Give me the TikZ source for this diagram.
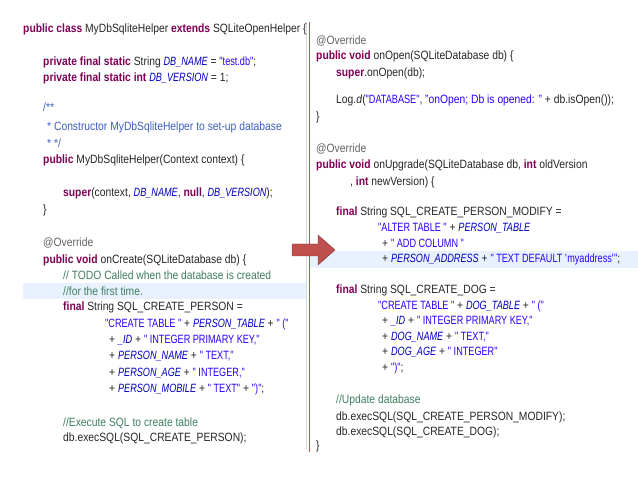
\documentclass[tikz,border=0pt]{standalone}
\usepackage{fontspec}
\setmainfont{Liberation Sans}[FakeStretch=0.86]
\newfontfamily\narrowfam{Liberation Sans}[FakeStretch=0.76]
\definecolor{kwc}{HTML}{7F0055}
\definecolor{fdc}{HTML}{0000C0}
\definecolor{stc}{HTML}{2A00FF}
\definecolor{cmc}{HTML}{3F7F5F}
\definecolor{dcc}{HTML}{3F5FBF}
\definecolor{anc}{HTML}{646464}
\definecolor{hlc}{HTML}{E8F2FE}
\definecolor{redl}{HTML}{C0504D}
\newcommand\jkw[1]{\textcolor{kwc}{\bfseries #1}}
\newcommand\jfd[1]{\textcolor{fdc}{\narrowfam\itshape #1}}
\newcommand\jst[1]{\textcolor{stc}{\narrowfam #1}}
\newcommand\jcm[1]{\textcolor{cmc}{#1}}
\newcommand\jdc[1]{\textcolor{dcc}{#1}}
\newcommand\jan[1]{\textcolor{anc}{#1}}
\tikzset{cl/.style={anchor=west,inner sep=0pt,font=\fontsize{12}{14}\selectfont,text=black!85}}
\begin{document}
\begin{tikzpicture}[x=1pt,y=-1pt]
\useasboundingbox (0,0) rectangle (638,478);
\fill[white] (0,0) rectangle (638,478);
\fill[hlc] (23,283) rectangle (307,299);
\fill[hlc] (310,251) rectangle (638,268);
\draw[black!15] (306,22) -- (306,450);
\draw[redl,line width=1pt] (309,22) -- (309,452);
% left
\node[cl] (l1) at (23,29) {\jkw{public class} MyDbSqliteHelper \jkw{extends} SQLiteOpenHelper \{};
\node[cl] (l2) at (43,62) {\jkw{private final static} String \jfd{DB\_NAME} = \jst{"test.db"};};
\node[cl] (l3) at (43,78) {\jkw{private final static int} \jfd{DB\_VERSION} = 1;};
\node[cl] (l4) at (43,107) {\jdc{/**}};
\node[cl] (l5) at (47,127) {\jdc{* Constructor MyDbSqliteHelper to set-up database}};
\node[cl] (l6) at (47,143) {\jdc{* */}};
\node[cl] (l7) at (43,160) {\jkw{public} MyDbSqliteHelper(Context context) \{};
\node[cl] (l8) at (63,193) {\jkw{super}(context, \jfd{DB\_NAME}, \jkw{null}, \jfd{DB\_VERSION});};
\node[cl] (l9) at (43,210) {\}};
\node[cl] (l10) at (43,243) {\jan{@Override}};
\node[cl] (l11) at (43,260) {\jkw{public void} onCreate(SQLiteDatabase db) \{};
\node[cl] (l12) at (63,275) {\jcm{// TODO Called when the database is created}};
\node[cl] (l13) at (63,291) {\jcm{//for the first time.}};
\node[cl] (l14) at (63,307) {\jkw{final} String SQL\_CREATE\_PERSON =};
\node[cl] (l15) at (105,324) {\jst{"CREATE TABLE "} + \jfd{PERSON\_TABLE} + \jst{" ("}};
\node[cl] (l16) at (109,340) {+ \jfd{\_ID} + \jst{" INTEGER PRIMARY KEY,"}};
\node[cl] (l17) at (109,356) {+ \jfd{PERSON\_NAME} + \jst{" TEXT,"}};
\node[cl] (l18) at (109,373) {+ \jfd{PERSON\_AGE} + \jst{" INTEGER,"}};
\node[cl] (l19) at (109,389) {+ \jfd{PERSON\_MOBILE} + \jst{" TEXT"} + \jst{")"};};
\node[cl] (l20) at (63,423) {\jcm{//Execute SQL to create table}};
\node[cl] (l21) at (63,438) {db.execSQL(SQL\_CREATE\_PERSON);};
% right
\node[cl] (r1) at (316,41) {\jan{@Override}};
\node[cl] (r2) at (316,56) {\jkw{public void} onOpen(SQLiteDatabase db) \{};
\node[cl] (r3) at (336,73) {\jkw{super}.onOpen(db);};
\node[cl] (r4) at (336,100) {Log.\textit{d}(\jst{"DATABASE"}, \textcolor{stc}{"onOpen; Db is opened: "} + db.isOpen());};
\node[cl] (r5) at (316,117) {\}};
\node[cl] (r6) at (316,149) {\jan{@Override}};
\node[cl] (r7) at (316,165) {\jkw{public void} onUpgrade(SQLiteDatabase db, \jkw{int} oldVersion};
\node[cl] (r8) at (350,182) {, \jkw{int} newVersion) \{};
\node[cl] (r9) at (336,212) {\jkw{final} String SQL\_CREATE\_PERSON\_MODIFY =};
\node[cl] (r10) at (378,228) {\jst{"ALTER TABLE "} + \jfd{PERSON\_TABLE}};
\node[cl] (r11) at (382,243) {+ \jst{" ADD COLUMN "}};
\node[cl] (r12) at (382,259) {+ \jfd{PERSON\_ADDRESS} + \jst{" TEXT DEFAULT \textquotesingle myaddress\textquotesingle "};};
\node[cl] (r13) at (336,290) {\jkw{final} String SQL\_CREATE\_DOG =};
\node[cl] (r14) at (378,306) {\jst{"CREATE TABLE "} + \jfd{DOG\_TABLE} + \jst{" ("}};
\node[cl] (r15) at (382,321) {+ \jfd{\_ID} + \jst{" INTEGER PRIMARY KEY,"}};
\node[cl] (r16) at (382,337) {+ \jfd{DOG\_NAME} + \jst{" TEXT,"}};
\node[cl] (r17) at (382,352) {+ \jfd{DOG\_AGE} + \jst{" INTEGER"}};
\node[cl] (r18) at (382,368) {+ \jst{")"};};
\node[cl] (r19) at (336,400) {\jcm{//Update database}};
\node[cl] (r20) at (336,417) {db.execSQL(SQL\_CREATE\_PERSON\_MODIFY);};
\node[cl] (r21) at (336,432) {db.execSQL(SQL\_CREATE\_DOG);};
\node[cl] (r22) at (316,446) {\}};
% arrow
\filldraw[fill=redl, draw=redl!70!black] (292,244) -- (318,244) -- (318,235) -- (335,250)
  -- (318,265) -- (318,256) -- (292,256) -- cycle;
\end{tikzpicture}
\end{document}
